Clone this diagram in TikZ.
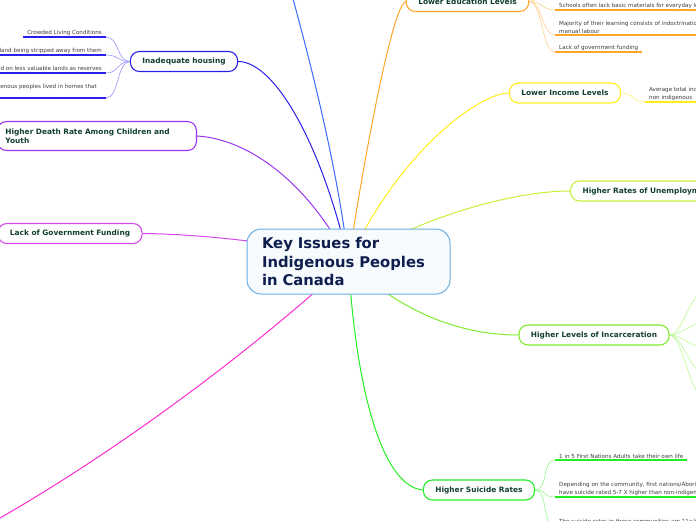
\documentclass[tikz,border=0pt]{standalone}
\usepackage{fontspec}
\setmainfont{DejaVu Sans}
\usetikzlibrary{backgrounds}
\definecolor{rootline}{HTML}{6AAEE0}
\definecolor{rootfill}{HTML}{F7FBFE}
\definecolor{roottext}{HTML}{0E1E4E}
\definecolor{topictext}{HTML}{12402F}
\definecolor{leaftext}{HTML}{3C3C3C}
\definecolor{housing}{HTML}{2B1FEA}
\definecolor{housingtw}{HTML}{9A94FF}
\definecolor{death}{HTML}{9B35F5}
\definecolor{funding}{HTML}{D548EA}
\definecolor{pinkoff}{HTML}{FF2BD0}
\definecolor{blueoff}{HTML}{3A6BFF}
\definecolor{edu}{HTML}{FFA52A}
\definecolor{edutw}{HTML}{FFCF8A}
\definecolor{income}{HTML}{FFEE1A}
\definecolor{incometw}{HTML}{FFF070}
\definecolor{unemp}{HTML}{C5F03A}
\definecolor{jail}{HTML}{7EEB2C}
\definecolor{jailtw}{HTML}{B8F890}
\definecolor{suicide}{HTML}{22EE22}
\definecolor{suicidetw}{HTML}{90F890}
\begin{document}
\begin{tikzpicture}[x=1pt,y=-1pt,
  root/.style={draw=rootline,line width=1pt,fill=rootfill,rounded corners=14pt,
    text=roottext,font=\fontsize{14.8}{18.5}\selectfont\bfseries,
    text width=173pt,align=left,minimum height=65pt,inner xsep=15pt},
  topic/.style={draw=#1,line width=1.1pt,fill=white,rounded corners=9pt,
    text=topictext,font=\fontsize{7.4}{9}\selectfont\bfseries,
    inner xsep=12pt,minimum height=20pt},
  leaf/.style={font=\fontsize{5.6}{8}\selectfont,text=leaftext,
    inner xsep=4pt,inner ysep=1.5pt,align=left},
  link/.style={draw=#1,line width=1pt},
  twig/.style={draw=#1,line width=0.6pt},
  bar/.style={draw=#1,line width=1.4pt}]
\useasboundingbox (0,0) rectangle (696,520);
\clip (0,0) rectangle (696,520);

\node[root] (root) at (348.5,261.5) {Key Issues for\\Indigenous Peoples\\in Canada};
\node[topic=housing] (housing) at (184,61.5) {Inadequate housing};
\node[topic=death,text width=183pt,align=left,inner xsep=8pt,minimum height=29pt,
  anchor=east] (death) at (197,136) {Higher Death Rate Among Children and\\Youth};
\node[topic=funding] (funding) at (70,233.5) {Lack of Government Funding};
\node[topic=edu] (edu) at (467.5,1.5) {Lower Education Levels};
\node[topic=income] (income) at (565,93) {Lower Income Levels};
\node[topic=unemp,anchor=west] (unemp) at (570,191) {Higher Rates of Unemployment};
\node[topic=jail] (jail) at (594,335) {Higher Levels of Incarceration};
\node[topic=suicide] (suicide) at (479,490) {Higher Suicide Rates};
\coordinate (up) at (290,-12);
\coordinate (down) at (-14,526);

\foreach \n/\y/\t in {h1/37/Crowded Living Conditions,
  h2/55/land being stripped away from them,
  h3/73/placed on less valuable lands as reserves}
  \node[leaf,anchor=south east] (\n) at (106,\y) {\t};
\node[leaf,anchor=south east,text depth=8pt] (h4) at (106,98)
  {Indigenous peoples lived in homes that\hspace*{5pt}};

\node[leaf,anchor=south west] (e1) at (555,10) {Schools often lack basic materials for everyday learning};
\node[leaf,anchor=south west] (e2) at (555,35) {Majority of their learning consists of indoctrination\\manual labour};
\node[leaf,anchor=south west] (e3) at (555,52) {Lack of government funding};
\coordinate (e0) at (556,-18);
\node[leaf,anchor=south west] (i1) at (645,102) {Average total income\\non indigenous};
\foreach \y [count=\k] in {293,323,347,372,396}
  \coordinate (j\k) at (703,\y);
\node[leaf,anchor=south west] (s1) at (555,460) {1 in 5 First Nations Adults take their own life};
\node[leaf,anchor=south west] (s2) at (555,497) {Depending on the community, first nations/Aboriginal\\have suicide rated 5-7 X higher than non-indigenous};
\node[leaf,anchor=south west] (s3) at (555,526) {The suicide rates in these communities are 11x higher};

\begin{scope}[on background layer]
\draw[link=blueoff] (up) .. controls (310,60) and (338,170) .. (root.center);
\draw[link=housing] (housing.east) .. controls (275,61.5) and (322,145) .. (root.center);
\draw[link=death] (death.east) .. controls (250,139) and (310,185) .. (root.center);
\draw[link=funding] (funding.east) .. controls (200,234) and (300,244) .. (root.center);
\draw[link=pinkoff] (down) .. controls (130,445) and (270,335) .. (root.center);
\draw[link=edu] (edu.west) .. controls (392,5) and (362,170) .. (root.center);
\draw[link=income] (income.west) .. controls (480,93) and (400,150) .. (root.center);
\draw[link=unemp] (unemp.west) .. controls (520,191) and (430,212) .. (root.center);
\draw[link=jail] (jail.west) .. controls (460,335) and (400,312) .. (root.center);
\draw[link=suicide] (suicide.west) .. controls (380,486) and (355,380) .. (root.center);

\foreach \n in {h1,h2,h3,h4} {
  \draw[twig=housingtw] (housing.west) .. controls +(-13,0) and +(13,0) .. (\n.south east);
  \draw[bar=housing] (\n.south west) -- (\n.south east);
}
\draw[twig=edutw] (edu.east) .. controls +(13,0) and +(-13,0) .. (e0);
\foreach \n in {e1,e2,e3} {
  \draw[twig=edutw] (edu.east) .. controls +(13,0) and +(-13,0) .. (\n.south west);
  \draw[bar=edu] (\n.south west) -- (\n.south east);
}
\draw[twig=incometw] (income.east) .. controls +(12,0) and +(-12,0) .. (i1.south west);
\draw[bar=income] (i1.south west) -- (i1.south east);
\foreach \k in {1,...,5}
  \draw[twig=jailtw] (jail.east) .. controls +(13,0) and +(-13,0) .. (j\k);
\foreach \n in {s1,s2,s3} {
  \draw[twig=suicidetw] (suicide.east) .. controls +(13,0) and +(-13,0) .. (\n.south west);
  \draw[bar=suicide] (\n.south west) -- (\n.south east);
}
\end{scope}
\end{tikzpicture}
\end{document}
